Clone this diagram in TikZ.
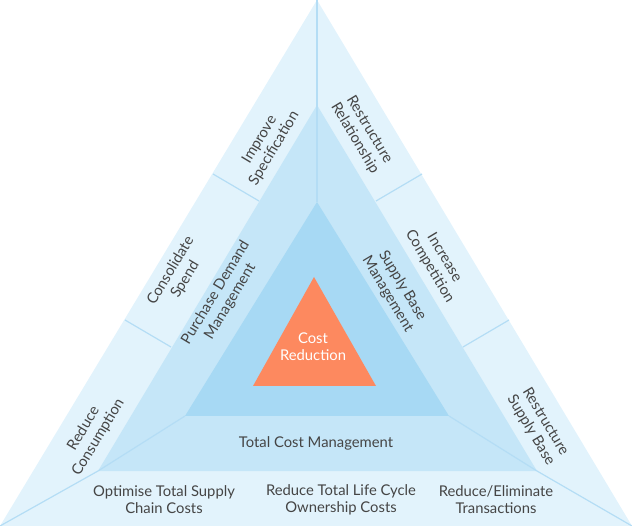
\documentclass[tikz,border=0pt]{standalone}
\usepackage{fontspec}
\setmainfont{Lato}
\definecolor{outerblue}{HTML}{E2F3FC}
\definecolor{midblue}{HTML}{C5E6F8}
\definecolor{innerblue}{HTML}{A7D9F4}
\definecolor{lineblue}{HTML}{B4DDF5}
\definecolor{costorange}{HTML}{FD895F}
\definecolor{textgray}{HTML}{454545}
\begin{document}
\begin{tikzpicture}[x=1pt,y=-1pt,
	lbl/.style={text=textgray, align=center, inner sep=0pt, font=\fontsize{14.8}{17}\selectfont},
	divider/.style={draw=lineblue, line width=1.2pt},
	leftside/.style={lbl, rotate=59},
	rightside/.style={lbl, rotate=-59}]
	\useasboundingbox (0,0) rectangle (632,526);
	% corners of the three rings
	\coordinate (T) at (317,0);
	\coordinate (L) at (0,526);
	\coordinate (R) at (632,526);
	\coordinate (mT) at (317,105);
	\coordinate (mL) at (98,471);
	\coordinate (mR) at (537,471);
	\coordinate (iT) at (317,202);
	\coordinate (iL) at (185,416);
	\coordinate (iR) at (449,416);
	\coordinate (cT) at (314,277);
	\coordinate (cL) at (253,386);
	\coordinate (cR) at (376,386);
	% ends of the short dividers
	\coordinate (d1a) at (213,174);
	\coordinate (d1b) at (259,201);
	\coordinate (d2a) at (125,320);
	\coordinate (d2b) at (171,347);
	\coordinate (d3a) at (422,174);
	\coordinate (d3b) at (376,201);
	\coordinate (d4a) at (509,320);
	\coordinate (d4b) at (463,347);
	\fill[outerblue] (T) -- (L) -- (R) -- cycle;
	\fill[midblue] (mT) -- (mL) -- (mR) -- cycle;
	\fill[innerblue] (iT) -- (iL) -- (iR) -- cycle;
	\fill[costorange] (cT) -- (cL) -- (cR) -- cycle;
	\draw[divider] (T) -- (mT) -- (iT);
	\draw[divider] (L) -- (mL) -- (iL);
	\draw[divider] (R) -- (mR) -- (iR);
	\draw[divider] (d1a) -- (d1b);
	\draw[divider] (d2a) -- (d2b);
	\draw[divider] (d3a) -- (d3b);
	\draw[divider] (d4a) -- (d4b);
	\node[leftside] (improve) at (267,144) {Improve\\Specification};
	\node[leftside] (consolidate) at (178,275) {Consolidate\\Spend};
	\node[leftside] (consumption) at (91,433) {Reduce\\Consumption};
	\node[leftside] (demand) at (223,297) {Purchase Demand\\Management};
	\node[rightside] (relationship) at (362,134) {Restructure\\Relationship};
	\node[rightside] (competition) at (437,262) {Increase\\Competition};
	\node[rightside] (supplybase) at (538,426) {Restructure\\Supply Base};
	\node[rightside] (basemgmt) at (395,290) {Supply Base\\Management};
	\node[lbl] (totalcost) at (316,443) {Total Cost Management};
	\node[lbl] (optimise) at (164,500) {Optimise Total Supply\\Chain Costs};
	\node[lbl] (lifecycle) at (341,500) {Reduce Total Life Cycle\\Ownership Costs};
	\node[lbl] (transactions) at (496,500) {Reduce/Eliminate\\Transactions};
	\node[lbl, text=white] (cost) at (313,347) {Cost\\Reduction};
\end{tikzpicture}
\end{document}
